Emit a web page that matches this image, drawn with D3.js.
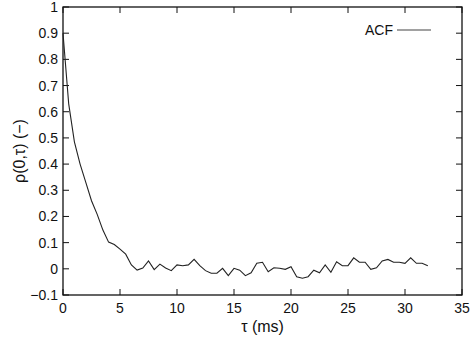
<!DOCTYPE html>
<html><head><meta charset="utf-8">
<script src="https://cdn.jsdelivr.net/npm/d3@7"></script>
<style>
body{margin:0;background:#fff;}
text{font-family:"Liberation Sans",Arial,Helvetica,sans-serif;fill:#111;}
</style></head>
<body><svg id="c" width="474" height="349"></svg>
<script>
const tau = d3.range(0, 32.0001, 0.5);
const acf = [0.90,0.63,0.485,0.40,0.33,0.26,0.208,0.148,0.102,0.093,
0.075,0.056,0.015,-0.005,0.003,0.030,-0.003,0.018,0.003,-0.007,
0.015,0.012,0.015,0.036,0.012,-0.007,-0.017,-0.017,0.002,-0.026,
0.002,-0.005,-0.026,-0.015,0.021,0.025,-0.011,0.004,0.002,-0.002,
0.008,-0.030,-0.036,-0.030,-0.005,-0.015,0.015,-0.013,0.027,0.012,
0.012,0.042,0.025,0.025,-0.002,0.004,0.030,0.036,0.025,0.025,
0.021,0.042,0.021,0.021,0.012];
const xTicks = [0,5,10,15,20,25,30,35];
const yTicks = [-0.1,0,0.1,0.2,0.3,0.4,0.5,0.6,0.7,0.8,0.9,1];
const seriesName = "ACF";

const svg = d3.select("#c");
const L=63, R=462, T=7, B=295;
const x = d3.scaleLinear().domain([0,35]).range([L,R]);
const y = d3.scaleLinear().domain([-0.1,1]).range([B,T]);
const tk = 6;
const fmtY = d => d===0 ? "0" : (d<0 ? "\u2212"+Math.abs(d) : String(+d.toFixed(1)));

const g = svg.append("g");
// ticks inward on all sides
xTicks.forEach(t=>{
  g.append("line").attr("x1",x(t)).attr("x2",x(t)).attr("y1",B).attr("y2",B-tk).attr("stroke","#111");
  g.append("line").attr("x1",x(t)).attr("x2",x(t)).attr("y1",T).attr("y2",T+tk).attr("stroke","#111");
  g.append("text").attr("x",x(t)).attr("y",B+18).attr("text-anchor","middle").attr("font-size",14).text(t);
});
yTicks.forEach(t=>{
  g.append("line").attr("x1",L).attr("x2",L+tk).attr("y1",y(t)).attr("y2",y(t)).attr("stroke","#111");
  g.append("line").attr("x1",R).attr("x2",R-tk).attr("y1",y(t)).attr("y2",y(t)).attr("stroke","#111");
  g.append("text").attr("x",L-5).attr("y",y(t)+5).attr("text-anchor","end").attr("font-size",14).text(fmtY(t));
});
g.append("rect").attr("x",L).attr("y",T).attr("width",R-L).attr("height",B-T)
 .attr("fill","none").attr("stroke","#111").attr("stroke-width",1.3);

const line = d3.line().x((d,i)=>x(tau[i])).y(d=>y(d));
svg.append("path").datum(acf).attr("d",line).attr("fill","none").attr("stroke","#222").attr("stroke-width",1.1);

// legend
svg.append("text").attr("x",393).attr("y",35).attr("text-anchor","end").attr("font-size",14).text(seriesName);
svg.append("line").attr("x1",397).attr("x2",431).attr("y1",30).attr("y2",30).attr("stroke","#444").attr("stroke-width",1.1);

// axis labels
svg.append("text").attr("x",(L+R)/2).attr("y",332).attr("text-anchor","middle").attr("font-size",16).text("\u03c4 (ms)");
svg.append("text").attr("transform",`translate(25,${(T+B)/2}) rotate(-90)`).attr("text-anchor","middle").attr("font-size",16).text("\u03c1(0,\u03c4) (\u2212)");
</script></body></html>
